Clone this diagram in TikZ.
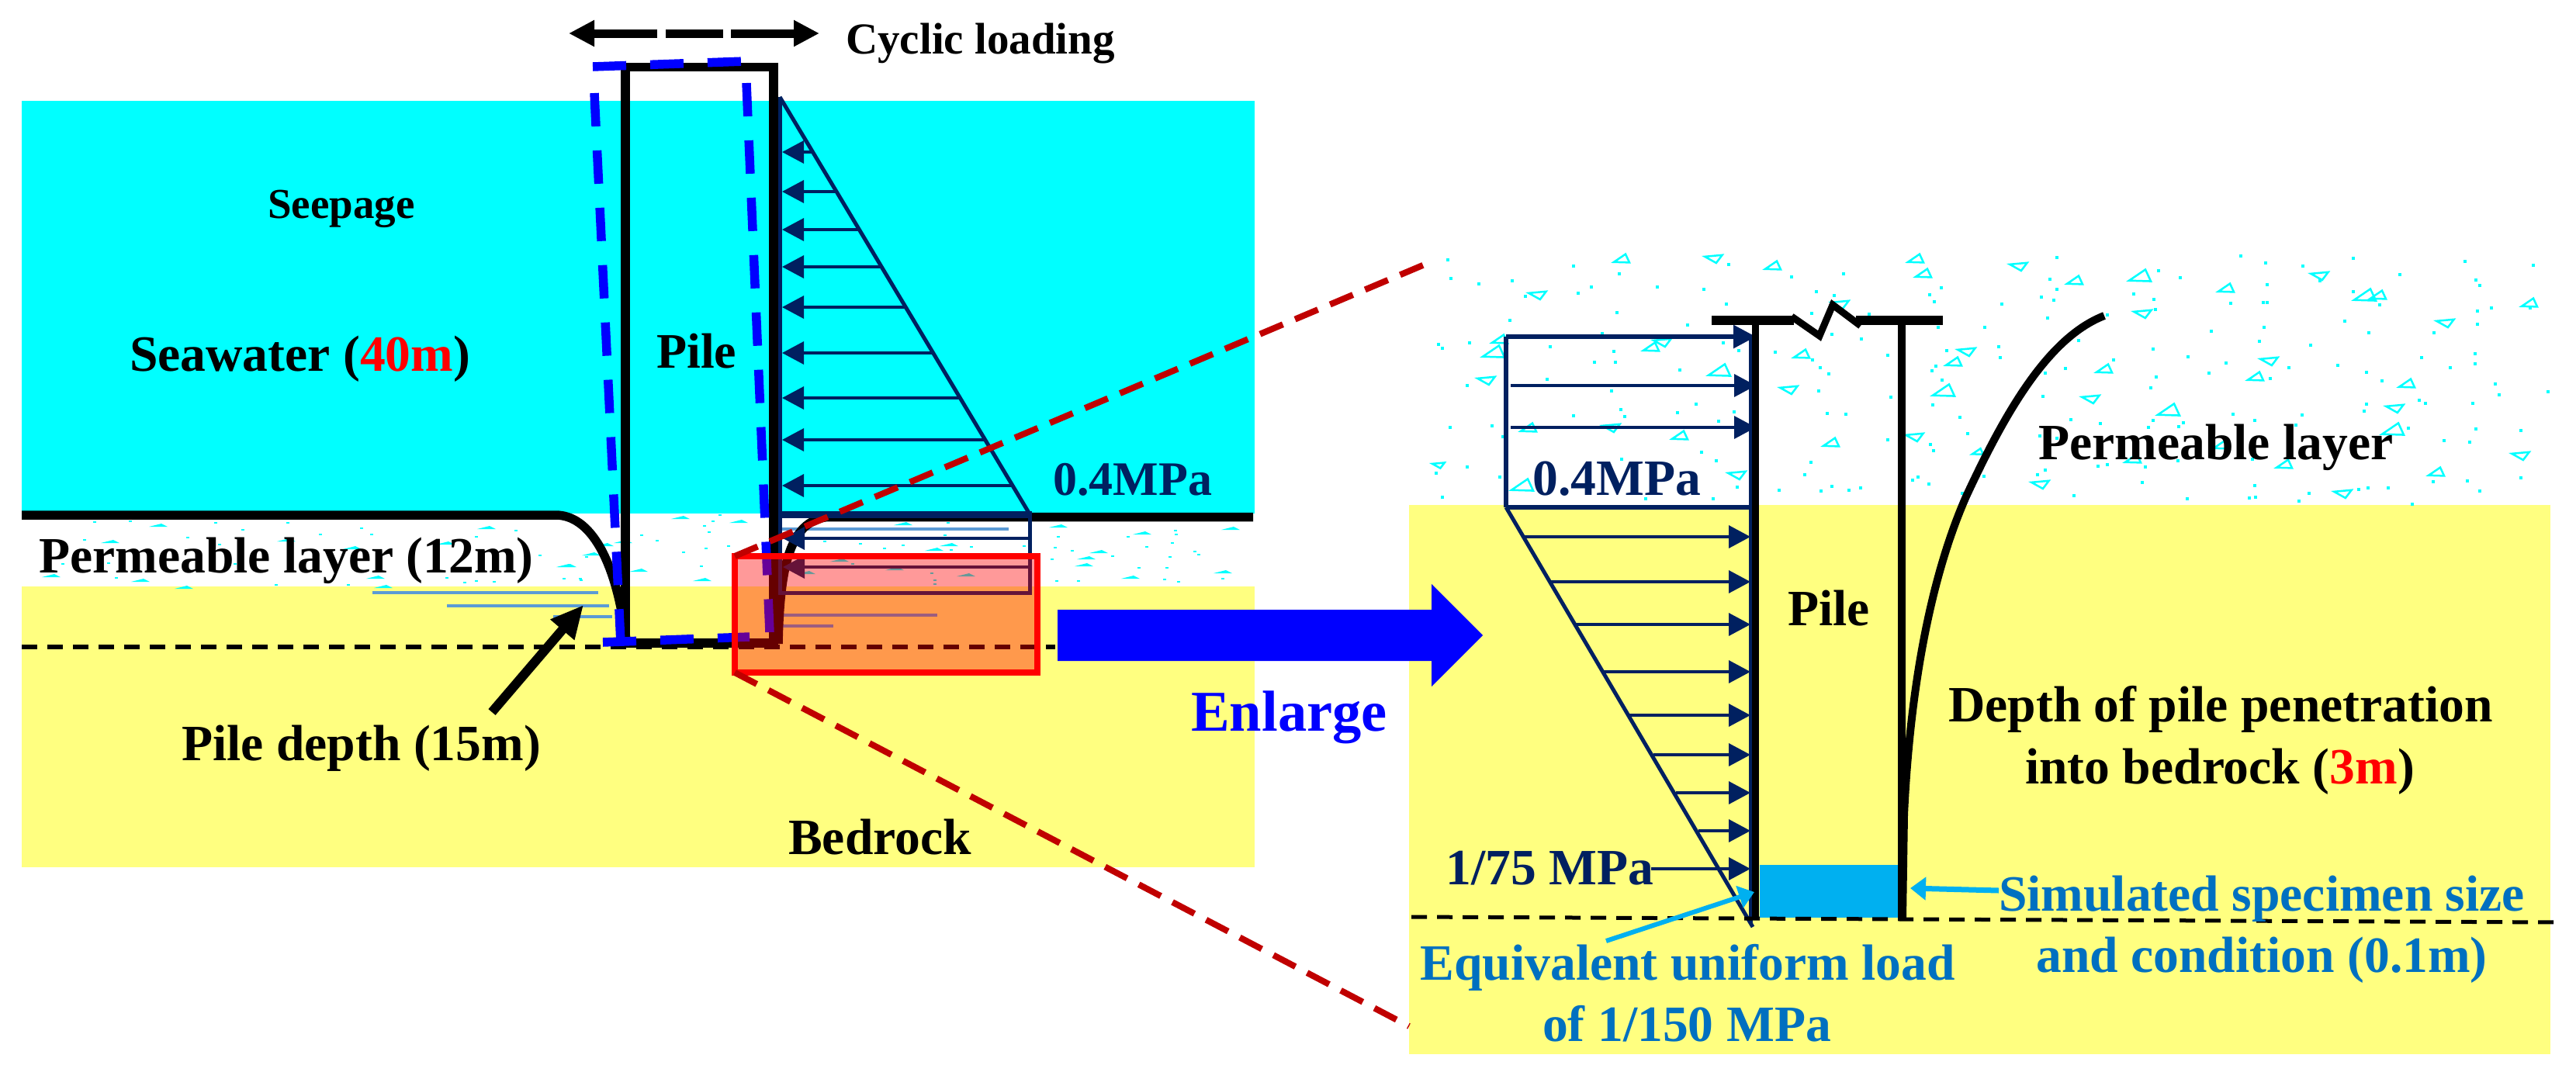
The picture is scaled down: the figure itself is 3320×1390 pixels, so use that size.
\documentclass[tikz,border=0pt]{standalone}
\usepackage{fontspec}
\setmainfont{Liberation Serif}
\usetikzlibrary{arrows.meta}
\definecolor{navyload}{HTML}{002060}
\definecolor{seawater}{HTML}{00FFFF}
\definecolor{bedrock}{HTML}{FFFF80}
\definecolor{flowline}{HTML}{5B9BD5}
\definecolor{specimen}{HTML}{00B0F0}
\definecolor{captionblue}{HTML}{0070C0}
\definecolor{zoomline}{HTML}{C00000}
\tikzset{
	txt/.style={inner sep=0pt,anchor=base,font=\fontsize{65.6}{70}\selectfont\bfseries},
	load/.style={navyload,line width=3.5pt,-{Triangle[length=28pt,width=29pt]}},
	bluedash/.style={blue,line width=11.5pt,dash pattern=on 43pt off 31pt},
	blackdash/.style={black,line width=6pt,dash pattern=on 20pt off 13pt},
	reddash/.style={zoomline,line width=8pt,dash pattern=on 32pt off 17pt},
	pointer/.style={specimen,line width=7pt,-{Triangle[length=20pt,width=29pt]}}
}
\begin{document}
\begin{tikzpicture}[x=1pt,y=-1pt]
	\useasboundingbox (0,0) rectangle (3320,1390);

	% ground on the left
	\fill[seawater] (28,130) rectangle (1617,662);
	\fill[bedrock] (28,756) rectangle (1617,1118);
	\fill[bedrock] (1816,651) rectangle (3287,1359);

	% seepage speckle, left
	\foreach \x/\y in {204/677,627/680,142/698,369/696,454/706,574/700,729/729,181/748,484/744,494/756,66/742,237/757,877/667,952/672,803/698,779/702,762/714,823/735,731/729,905/747,1164/675,1223/702,1204/708,1082/722,1153/733,1245/741,1039/738,1364/678,1472/687,1586/681,1416/711,1400/719,1397/728,1457/744,1576/737}
		\fill[seawater] (\x-12,\y+2) -- (\x+12,\y+2) -- (\x+4,\y-2) -- cycle;
	\foreach \x/\y in {122/673,168/672,278/674,371/674,313/683,413/689,466/681,665/684,109/696,283/702,479/689,614/692,242/693,81/727,140/726,303/727,696/716,614/749,599/751,637/750,749/748,356/754,449/754,150/745,576/745,1222/674,1218/690,1109/701,1063/698,1164/703,1252/705,1140/707,1320/704,1226/709,1099/727,1201/739,1205/748,1205/753,1364/692,1454/692,1515/684,1516/689,1478/705,1511/700,1382/710,1356/721,1434/717,1540/711,1545/715,1508/718,1501/747,1576/746,1360/706,1468/732,1504/732,1519/750,1390/749,1362/749,928/664,919/672,908/678,827/690,914/686,847/697,910/707,939/704,881/712,756/718,904/730,748/746,727/746}
		\fill[seawater] (\x-2,\y-1) rectangle ++(4,2);

	% seepage speckle, right
	\foreach \x/\y/\r/\s in {2090/333/0/1,2210/331/-40/1,2285/342/0/1,2469/333/0/1,2479/352/0/1,2603/341/-40/1,2674/361/0/1,1983/378/-40/1,2373/390/-40/1,1933/437/0/1,1925/453/0/1.4,2144/439/-40/1,2128/447/0/1,2322/456/0/1,2536/451/-40/1,2518/466/0/1,2216/477/0/1.4,1917/488/-40/1,2307/500/-40/1,2505/503/0/1.4,1970/551/0/1,2078/549/-40/1,2165/561/0/1,2360/570/0/1,2469/561/-40/1,2240/610/-40/1,1962/625/0/1.4,2631/622/-40/1,2549/582/0/.7,1855/598/-40/.7,2758/355/0/1.4,2869/371/0/1,2991/353/-40/1,3048/380/0/1.4,3065/380/0/1,3260/390/0/1,2763/402/-40/1,3153/414/-40/1,2926/463/-40/1,2712/475/0/1,2907/485/0/1,3102/494/0/1,2696/512/-40/1,2795/528/0/1.4,3088/524/-40/1,3084/553/0/1.4,2863/573/0/1,2749/591/0/1,2944/598/0/1,3250/585/-40/1,3140/608/0/1,3021/634/-40/1}
		\draw[seawater,line width=2.5pt,shift={(\x,\y)},yscale=.6,rotate=\r,scale=\s] (-10,8) -- (10,9) -- (5,-9) -- cycle;
	\foreach \x/\y in {115/44,398/68,122/116,500/98,745/62,1003/98,185/138,260/126,886/110,437/150,586/150,690/158,408/173,290/186,942/168,983/183,1222/152,1196/180,1208/206,740/215,255/278,494/248,654/296,932/252,1060/254,1216/305,1320/305,1358/215,462/330,977/332,1044/350,345/380,94/372,102/386,164/367,487/398,733/365,768/395,850/401,1102/413,1235/395,1352/380,1355/422,445/440,492/440,636/470,933/433,951/463,971/485,1210/455,1202/473,338/508,158/530,482/551,948/553,1109/575,1225/510,673/602,504/623,512/650,631/635,397/648,966/638,1008/642,757/632,1203/607,1264/653,120/692,214/688,723/668,238/730,1282/716,1102/740,1198/758,1206/782,685/790,506/815,717/822,930/827,158/846,88/870,1170/885,1158/897,917/875,1195/912,1318/882,232/884,978/920,953/940,858/935,1016/935,1042/926,765/925,710/970,560/970,102/962,1270/947}
		\fill[seawater] ({1800+\x/1.742-2},{320+\y/3-2}) rectangle ++(4,4);
	\foreach \x/\y in {110/35,627/30,943/38,1257/50,1448/66,696/57,801/68,397/87,457/113,1073/101,92/120,1288/122,110/158,702/140,1298/143,850/126,943/168,67/188,103/200,327/176,383/199,598/212,690/210,702/210,1016/218,252/259,388/238,1291/242,1331/230,1440/230,85/269,693/305,545/320,1292/294,987/326,1169/326,918/282,172/356,680/360,823/375,381/390,1285/408,479/420,269/432,585/443,1135/424,1284/446,900/452,762/462,134/464,1216/463,78/482,538/484,981/480,710/503,390/497,1024/514,1341/524,374/541,72/572,1352/566,1489/554,1128/588,1145/600,1278/600,980/603,973/630,606/641,799/645,151/662,666/665,382/665,467/675,234/679,782/684,454/690,368/692,1098/695,1287/698,1414/704,64/725,110/735,1197/745,1269/749,450/822,660/815,226/842,252/836,360/845,78/857,57/875,1414/887,1263/900,1167/904,351/905,667/917,985/926,1041/926,958/932,1298/938,160/956,818/948,477/968,651/965,668/962,791/977,1108/990}
		\fill[seawater] ({2600+\x/2.178-2},{320+\y/3-2}) rectangle ++(4,4);

	% flow lines in the ground
	\foreach \xa/\xb/\y in {480/771/764,576/785/781,713/789/795,1008/1300/682,1003/1208/793,1002/1074/807}
		\draw[flowline,line width=4pt] (\xa,\y) -- (\xb,\y);

	% ground line
	\draw[line width=11.5pt] (28,664) -- (716,664) .. controls (760,664) and (795,720) .. (808,833);
	\draw[line width=11.5pt] (1003,830) .. controls (1005,730) and (1018,672) .. (1066,666.5) -- (1615,666.5);
	\draw[blackdash] (28,834) -- (1360,834);

	% pile on the left
	\draw[line width=11.5pt,miter limit=4] (806,829) -- (806,86.5) -- (997,86.5) -- (997,829) -- cycle;
	\draw[bluedash] (764,86) -- (960,79);
	\draw[bluedash] (766,120) -- (800,829);
	\draw[bluedash] (962,107) -- (992,815);
	\draw[bluedash] (777,828) -- (966,821);

	% cyclic loading
	\draw[line width=11pt,-{Triangle[length=33pt,width=32pt]}] (847,43) -- (733,43);
	\draw[line width=11pt] (858,43) -- (932,43);
	\draw[line width=11pt,-{Triangle[length=33pt,width=32pt]}] (942,43) -- (1056,43);

	% load on the left
	\draw[navyload,line width=5pt] (1005,125) -- (1326,661);
	\draw[navyload,line width=5pt] (1005,125) -- (1005,764) -- (1327,764) -- (1327,663);
	\draw[navyload,line width=9pt] (1003,663) -- (1330,663);
	\foreach \y in {196,247,296,344,396,455,513,567,626} {
		\pgfmathsetmacro{\xend}{1005+(\y-125)*0.599}
		\draw[load] (\xend,\y) -- (1008,\y);
	}
	\foreach \y in {694,731}
		\draw[load] (1327,\y) -- (1009,\y);

	% pile on the right
	\fill[specimen] (2268,1115) rectangle (2446,1183);
	\draw[navyload,line width=5pt] (1941,654) -- (2259,1195);
	\draw[navyload,line width=5pt] (2256,434) -- (2256,1190);
	\draw[navyload,line width=6pt] (1941,654) -- (1941,434);
	\draw[navyload,line width=6pt] (1941,654) -- (2256,654);
	\foreach \y in {692,750,805,866,922,973,1022,1071} {
		\pgfmathsetmacro{\xstart}{1941+(\y-654)*0.595}
		\draw[load] (\xstart,\y) -- (2256,\y);
	}
	\coordinate (lowload) at (2128,1120);
	\draw[load] (lowload) -- (2256,1120);
	\draw[navyload,line width=6pt,-{Triangle[length=29pt,width=29pt]}] (1941,434) -- (2263,434);
	\foreach \y in {497,551}
		\draw[load] (1947,\y) -- (2263,\y);
	\draw[line width=9.5pt] (2262.5,413) -- (2262.5,1186);
	\draw[line width=10pt] (2451,413) -- (2451,1186);
	\draw[line width=12pt] (2206,413) -- (2312,413);
	\draw[line width=12pt] (2392,413) -- (2504,413);
	\draw[line width=9pt] (2309,408) -- (2345,433) -- (2362,393) -- (2398,420);
	\draw[line width=10pt] (2712,407) .. controls (2640,435) and (2585,530) .. (2534,640) .. controls (2490,740) and (2462,880) .. (2454,1050) -- (2452,1183);
	\draw[blackdash,line width=5pt] (1819,1182) -- (3295,1189);

	% pointers
	\coordinate (depthtail) at (634,918);
	\coordinate (depthtip) at (752,780);
	\draw[line width=12pt,-{Triangle[length=42pt,width=38pt]}] (depthtail) -- (depthtip);
	\coordinate (equaltail) at (2070,1213);
	\coordinate (equaltip) at (2261,1150);
	\draw[pointer,line width=6pt] (equaltail) -- (equaltip);
	\coordinate (simtail) at (2576,1148);
	\coordinate (simtip) at (2462,1145);
	\draw[pointer] (simtail) -- (simtip);

	% enlarge
	\fill[blue] (1363,786) -- (1845,786) -- (1845,753) -- (1911,819) -- (1845,885) -- (1845,852) -- (1363,852) -- cycle;
	\node[txt,blue,anchor=base west,font=\fontsize{74.5}{80}\selectfont\bfseries] (enlarge) at (1535,942) {Enlarge};

	% enlarged window
	\node[draw=red,line width=8pt,fill=red,fill opacity=.4,draw opacity=1,outer sep=0pt,inner sep=0pt,minimum width=390pt,minimum height=150pt] (window) at (1142,792) {};
	\coordinate (windowtop) at (1836,341);
	\coordinate (windowbottom) at (1816,1323);
	\draw[reddash] (window.north west) -- (windowtop);
	\draw[reddash] (window.south west) -- (windowbottom);

	% labels on the left
	\node[txt,anchor=base west,font=\fontsize{57}{62}\selectfont\bfseries] (cyclic) at (1090,69) {Cyclic loading};
	\node[txt,anchor=base west,font=\fontsize{55}{60}\selectfont\bfseries] (seepage) at (345,281) {Seepage};
	\node[txt,anchor=base west] (sea) at (167,478) {Seawater (\textcolor{red}{40m})};
	\node[txt,anchor=base west,font=\fontsize{64}{70}\selectfont\bfseries] (pileleft) at (846,474) {Pile};
	\node[txt,anchor=base west] (permeableleft) at (50,738) {Permeable layer (12m)};
	\node[txt,anchor=base west] (depth) at (234,980) {Pile depth (15m)};
	\node[txt,anchor=base west] (rock) at (1016,1101) {Bedrock};
	\node[txt,navyload,anchor=base west,font=\fontsize{62}{66}\selectfont\bfseries] (peakleft) at (1357,638) {0.4MPa};

	% labels on the right
	\node[txt,navyload,anchor=base west] (peakright) at (1975,638) {0.4MPa};
	\node[txt,anchor=base west] (permeableright) at (2627,592) {Permeable layer};
	\node[txt,anchor=base west] (pileright) at (2304,806) {Pile};
	\node[txt] (penetration) at (2862,930) {Depth of pile penetration};
	\node[txt] (penetrationb) at (2861,1010) {into bedrock (\textcolor{red}{3m})};
	\node[txt,navyload,anchor=base west] (lowlabel) at (1863,1140) {1/75 MPa};
	\node[txt,captionblue] (sim) at (2915,1174) {Simulated specimen size};
	\node[txt,captionblue] (simb) at (2915,1253) {and condition (0.1m)};
	\node[txt,captionblue] (equal) at (2175,1263) {Equivalent uniform load};
	\node[txt,captionblue] (equalb) at (2174,1342) {of 1/150 MPa};
\end{tikzpicture}
\end{document}
